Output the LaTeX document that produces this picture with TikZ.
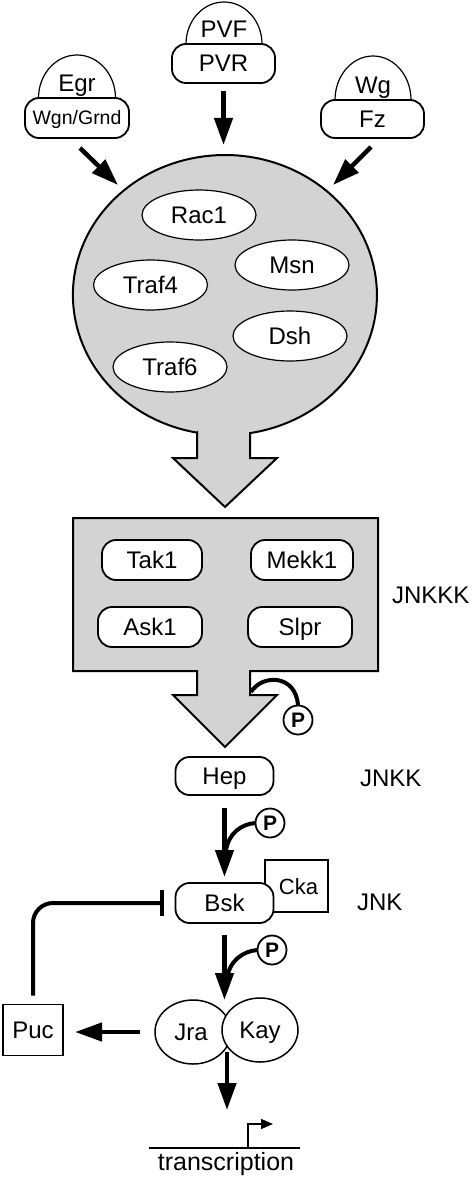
\documentclass[tikz,border=0pt]{standalone}
\usepackage{fontspec}
\setmainfont{Liberation Sans}
\usetikzlibrary{arrows.meta,shapes.geometric}
\definecolor{sig}{RGB}{211,211,211}
\begin{document}
\begin{tikzpicture}[x=1pt,y=-1pt,
  every node/.style={inner sep=0pt, outer sep=0pt},
  lbl/.style={font=\fontsize{24}{28}\selectfont, text height=17pt, text depth=0pt},
  rbox/.style={draw, line width=1.8pt, fill=white, rounded corners=14pt, minimum height=40pt, lbl},
  oval/.style={draw, ellipse, line width=1.2pt, fill=white, minimum width=114pt, minimum height=50pt, lbl},
  dome/.style={draw, line width=1.2pt, fill=white},
  bigarrow/.style={line width=4.5pt, -{Triangle[length=27pt,width=18pt]}},
  pline/.style={line width=4pt},
  pcirc/.style={draw, circle, line width=1.8pt, minimum size=29pt, font=\fontsize{21}{24}\selectfont\bfseries, fill=white},
  sigshape/.style={draw, line width=2pt, fill=sig, line join=miter},
]
\useasboundingbox (0,0) rectangle (474,1177);

% receptors
\draw[dome] (38.5,98) arc[start angle=180, end angle=360, x radius=38.5, y radius=43];
\draw[dome] (186,44) arc[start angle=180, end angle=360, x radius=38, y radius=42];
\draw[dome] (335,100) arc[start angle=180, end angle=360, x radius=38, y radius=44];
\node[lbl] (egr) at (77,83.5) {Egr};
\node[lbl] (pvf) at (224,29.5) {PVF};
\node[lbl] (wg) at (373,85.5) {Wg};
\node[rbox, minimum width=104pt, font=\fontsize{19.5}{22}\selectfont, text height=14pt] (wgn) at (77,118) {Wgn/Grnd};
\node[rbox, minimum width=103pt, minimum height=39pt] (pvr) at (223.5,63.5) {PVR};
\node[rbox, minimum width=103pt, minimum height=38pt] (fz) at (372.5,119) {Fz};

% big signalling shape
\draw[sigshape] (197,432.6) -- (197,458) -- (173,458) -- (225,507) -- (277,458) -- (250,458) -- (250,433.1)
  arc[start angle=80.5, end angle=-259.4, x radius=152, y radius=140] -- cycle;
\coordinate (sigtop) at (223.5,155);
\coordinate (egrstart) at (80,148);
\coordinate (egrend) at (118,185);
\coordinate (fzstart) at (371,147);
\coordinate (fzend) at (333,185);

\node[oval] (rac1) at (199,215) {Rac1};
\node[oval] (traf4) at (150.5,285) {Traf4};
\node[oval] (msn) at (292,265) {Msn};
\node[oval] (dsh) at (290,336) {Dsh};
\node[oval] (traf6) at (170,367) {Traf6};

\draw[bigarrow] (egrstart) -- (egrend);
\draw[bigarrow, shorten <=8.5pt, shorten >=10pt] (pvr.south) -- (sigtop);
\draw[bigarrow] (fzstart) -- (fzend);

% JNKKK box
\draw[sigshape] (73,518) -- (378,518) -- (378,671) -- (250,671) -- (250,695) -- (277,695) -- (225,747) -- (173,695) -- (197,695) -- (197,671) -- (73,671) -- cycle;
\node[rbox, minimum width=100pt] (tak1) at (152,560) {Tak1};
\node[rbox, minimum width=102pt] (mekk1) at (302,560) {Mekk1};
\node[rbox, minimum width=104pt] (ask1) at (150,627) {Ask1};
\node[rbox, minimum width=104pt] (slpr) at (300,627) {Slpr};
\node[lbl, anchor=west] (jnkkk) at (392,595) {JNKKK};

\coordinate (stemr) at (251,692);
\node[pcirc] (p1) at (298,720) {P};
\draw[pline] (stemr) .. controls (262,674) and (296,674) .. (p1.north);

% JNKK
\node[rbox, minimum width=98pt, minimum height=38pt] (hep) at (224.5,776) {Hep};
\node[lbl, anchor=west] (jnkk) at (360,778) {JNKK};

% JNK
\node[draw, line width=1.5pt, fill=white, minimum width=63pt, minimum height=52pt, lbl, font=\fontsize{22}{26}\selectfont, text height=16pt] (cka) at (296.5,886) {\hspace*{4pt}Cka};
\node[rbox, minimum width=98pt] (bsk) at (224.5,903) {Bsk};
\node[lbl, anchor=west] (jnk) at (357,902) {JNK};

\node[pcirc] (p2) at (270,823) {P};
\coordinate (a2) at (226,851);
\draw[bigarrow, shorten <=13pt, shorten >=6pt] (hep.south) -- (bsk.north);
\draw[pline] (p2.west) .. controls (241,824) and (228,834) .. (a2);

% Jra / Kay
\node[draw, ellipse, line width=1.5pt, fill=white, minimum width=76pt, minimum height=64pt, lbl] (jra) at (193,1032) {\hspace*{-4pt}Jra};
\node[draw, ellipse, line width=1.5pt, fill=white, minimum width=76pt, minimum height=64pt, lbl] (kay) at (260,1030) {Kay};
\coordinate (jktop) at (226,1000);
\draw[bigarrow, shorten <=12pt] (bsk.south) -- (bsk.south |- jktop);
\node[pcirc] (p3) at (272,950) {P};
\coordinate (a3) at (227,979);
\draw[pline] (p3.west) .. controls (243,951) and (229,961) .. (a3);

% Puc
\node[draw, line width=1.8pt, fill=white, minimum width=60pt, minimum height=51pt, lbl] (puc) at (33,1030) {Puc};
\draw[bigarrow, shorten <=15pt, shorten >=12pt] (jra.west) -- (jra.west -| puc.east);
\draw[line width=4pt, rounded corners=20pt, -{Bar[width=26pt, line width=4pt]}, shorten <=9pt, shorten >=12pt] (puc.north) |- (bsk.west);

% transcription
\coordinate (jkbot) at (227,1052);
\coordinate (txtop) at (227,1110);
\draw[bigarrow] (jkbot) -- (txtop);
\coordinate (tl) at (149,1148);
\coordinate (tr) at (300,1148);
\coordinate (prom) at (248,1148);
\draw[line width=2pt] (tl) -- (tr);
\draw[line width=1.5pt, -{Triangle[length=12pt,width=10pt]}] (prom) -- ++(0,-24) -- ++(25,0);
\node[font=\fontsize{25}{28}\selectfont, anchor=base] (trtext) at (226,1170) {transcription};
\end{tikzpicture}
\end{document}
